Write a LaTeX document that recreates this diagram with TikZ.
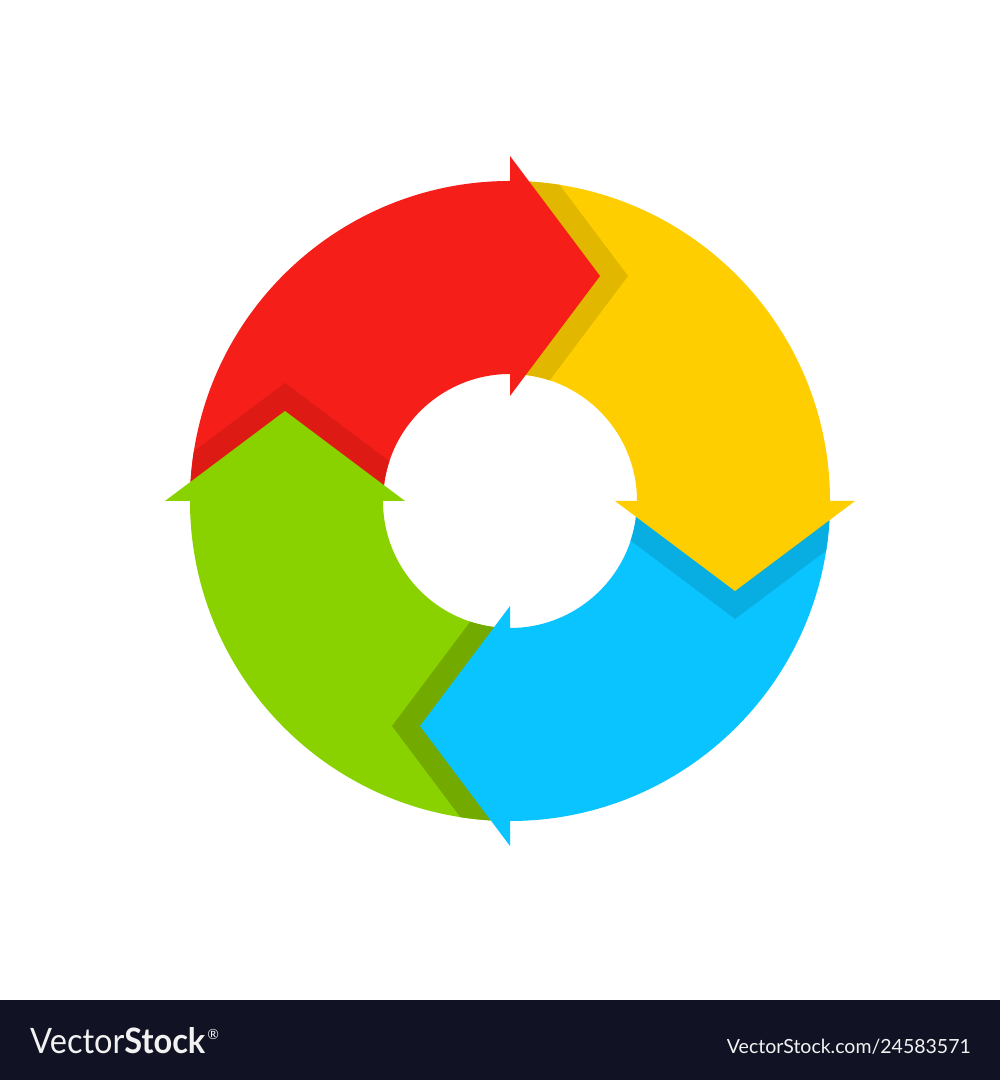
\documentclass[tikz,border=0pt]{standalone}
\usepackage{fontspec}
\newfontfamily\lato{Lato}
\definecolor{redA}{RGB}{245,30,24}
\definecolor{redD}{RGB}{222,26,20}
\definecolor{yelA}{RGB}{255,206,0}
\definecolor{yelD}{RGB}{226,183,0}
\definecolor{bluA}{RGB}{10,196,255}
\definecolor{bluD}{RGB}{8,174,226}
\definecolor{grnA}{RGB}{137,210,0}
\definecolor{grnD}{RGB}{114,170,0}
\definecolor{barC}{RGB}{17,19,37}
\definecolor{txtC}{RGB}{242,242,242}
\tikzset{wm/.style={text=txtC, inner sep=0pt, font=\lato}}
\begin{document}
\begin{tikzpicture}[x=1pt,y=1pt]
\useasboundingbox (0,0) rectangle (1000,1080);
\fill[white] (0,0) rectangle (1000,1080);
\fill[barC] (0,0) rectangle (1000,80);
\begin{scope}[shift={(510,579)}]
% bodies: each starts just under the previous head and runs a little under its own head
\foreach \t/\c in {90/redA,0/yelA,-90/bluA,180/grnA}{
  \fill[\c] (\t+87:320) arc[start angle=\t+87, end angle=\t-3, radius=320]
     -- (\t-3:127) arc[start angle=\t-3, end angle=\t+87, radius=127] -- cycle;
}
% shadows (clipped to the next band)
\foreach \t/\d in {90/yelD,0/bluD,-90/grnD,180/redD}{
  \begin{scope}
  \clip (\t:320) arc[start angle=\t, end angle=\t-90, radius=320]
     -- (\t-90:127) arc[start angle=\t-90, end angle=\t, radius=127] -- cycle;
  \begin{scope}[rotate=\t-90]
    \fill[\d] (5,105) -- (5,345) -- (28,345) -- (118,225) -- (28,105) -- cycle;
  \end{scope}
  \end{scope}
}
% heads
\foreach \t/\c in {90/redA,0/yelA,-90/bluA,180/grnA}{
  \begin{scope}[rotate=\t-90]
    \fill[\c] (0,105) -- (0,345) -- (90,225) -- cycle;
  \end{scope}
}
\end{scope}
\node[wm, anchor=base west, font=\lato\fontsize{35}{35}\selectfont] (logo) at (30,27)
  {\scalebox{0.93}[1]{Vector\textbf{Stock}}\hspace{2pt}\raisebox{14pt}{\fontsize{14}{14}\selectfont\textregistered}};
\node[wm, anchor=base east, font=\lato\fontsize{19.5}{19.5}\selectfont] (url) at (971,27)
  {VectorStock.com/24583571};
\end{tikzpicture}
\end{document}
